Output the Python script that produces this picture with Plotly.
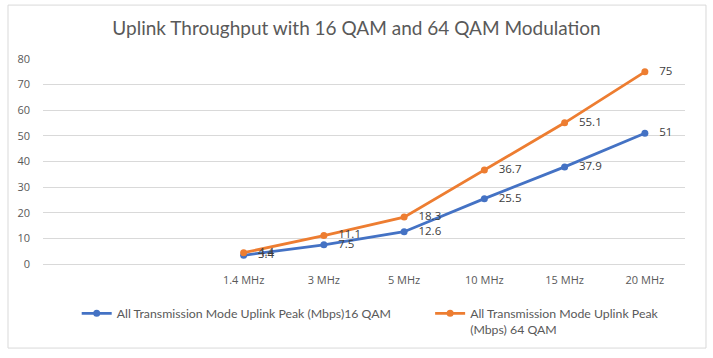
import plotly.graph_objects as go

categories = [" ", "  ", "1.4 MHz", "3 MHz", "5 MHz", "10 MHz", "15 MHz", "20 MHz"]
x_points = ["1.4 MHz", "3 MHz", "5 MHz", "10 MHz", "15 MHz", "20 MHz"]
qam16 = [3.4, 7.5, 12.6, 25.5, 37.9, 51]
qam64 = [4.4, 11.1, 18.3, 36.7, 55.1, 75]
name16 = "All Transmission Mode Uplink Peak (Mbps)16 QAM"
name64 = "All Transmission Mode Uplink Peak<br>(Mbps) 64 QAM"
y_ticks = [0, 10, 20, 30, 40, 50, 60, 70, 80]

blue = "#4472C4"
orange = "#ED7D31"

fig = go.Figure()
fig.add_trace(go.Scatter(
    x=x_points, y=qam16, name=name16, mode="lines+markers+text",
    line=dict(color=blue, width=2.8), marker=dict(color=blue, size=7),
    text=[f"   {v:g}" for v in qam16], textposition="middle right",
    textfont=dict(family="Open Sans", size=11.5, color="#404040"),
    legend="legend",
))
fig.add_trace(go.Scatter(
    x=x_points, y=qam64, name=name64, mode="lines+markers+text",
    line=dict(color=orange, width=2.8), marker=dict(color=orange, size=7),
    text=[f"   {v:g}" for v in qam64], textposition="middle right",
    textfont=dict(family="Open Sans", size=11.5, color="#404040"),
    legend="legend2",
))

legend_font = dict(family="Lato", size=12.3, color="#595959")

fig.update_layout(
    width=713, height=358,
    margin=dict(l=43, r=28, t=59, b=94, autoexpand=False),
    paper_bgcolor="white", plot_bgcolor="white",
    title=dict(text="Uplink Throughput with 16 QAM and 64 QAM Modulation",
               x=0.5, xanchor="center", y=0.92, yanchor="middle",
               font=dict(family="Lato", size=19, color="#595959")),
    xaxis=dict(type="category", categoryorder="array", categoryarray=categories,
               range=[-0.5, 7.5], showgrid=False, zeroline=False,
               showline=True, linecolor="#D9D9D9", linewidth=1,
               ticks="", ticklabelstandoff=6,
               tickfont=dict(family="Open Sans", size=11, color="#595959")),
    yaxis=dict(range=[0, 80], tickvals=y_ticks, showgrid=True, gridcolor="#D9D9D9",
               gridwidth=1, zeroline=False, showline=False, ticks="",
               tickfont=dict(family="Open Sans", size=11, color="#595959"),
               ticklabelstandoff=12),
    showlegend=True,
    legend=dict(orientation="h", x=0.0525, xanchor="left", y=-0.17, yanchor="top",
                valign="top", font=legend_font, bgcolor="rgba(0,0,0,0)"),
    legend2=dict(orientation="h", x=0.603, xanchor="left", y=-0.17, yanchor="top",
                 valign="top", font=legend_font, bgcolor="rgba(0,0,0,0)"),
    shapes=[dict(type="rect", xref="paper", yref="paper",
                 x0=-0.0545, x1=1.0327, y0=-0.41, y1=1.263,
                 line=dict(color="#D9D9D9", width=1), fillcolor="rgba(0,0,0,0)",
                 layer="below")],
)

fig.write_html("out.html", config={"displayModeBar": False},
               post_script="document.body.style.margin='0';")
